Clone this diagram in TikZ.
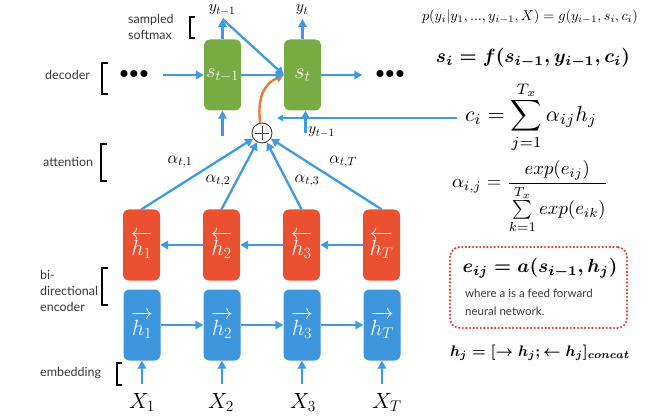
\RequirePackage{fix-cm}
\documentclass[tikz,border=0pt]{standalone}
\usepackage{amsmath}
\usepackage{fontspec}
\newfontfamily\labfont{Lato}
\usetikzlibrary{arrows.meta}
\definecolor{dgreen}{HTML}{79AB45}
\definecolor{bred}{HTML}{EA5130}
\definecolor{bblue}{HTML}{3D96DC}
\definecolor{ablue}{HTML}{3E9BE0}
\definecolor{orng}{HTML}{F0782F}
\definecolor{labgray}{HTML}{3A3A3A}
\definecolor{dotred}{HTML}{E0352B}
\begin{document}
\begin{tikzpicture}[x=1pt,y=-1pt,
  cell/.style={rounded corners=6pt, minimum width=37pt, minimum height=71pt, inner sep=0pt, text=white, font=\fontsize{22}{26}\selectfont},
  dec/.style={cell, fill=dgreen},
  bwd/.style={cell, fill=bred},
  fwd/.style={cell, fill=bblue},
  arr/.style={draw=ablue, line width=2.3pt, -{Triangle[length=8pt,width=8.5pt]}},
  orr/.style={draw=orng, line width=2.4pt, -{Triangle[length=8pt,width=8.5pt]}},
  lab/.style={font=\labfont\fontsize{12.5}{16}\selectfont, text=labgray, align=left, inner sep=0pt},
  note/.style={font=\labfont\fontsize{11.5}{18}\selectfont, text=labgray, align=left, inner sep=0pt},
  ml/.style={font=\fontsize{16}{19}\selectfont, inner sep=0pt},
  al/.style={font=\fontsize{17}{20}\selectfont, inner sep=0pt},
  xl/.style={font=\fontsize{22}{26}\selectfont, inner sep=0pt},
  dots/.style={font=\fontsize{18}{20}\selectfont, inner sep=0pt},
  eq/.style={inner sep=0pt},
  brk/.style={draw=black, line width=2.4pt},
  sbrk/.style={draw=black, line width=1.7pt},
]
\useasboundingbox (0,0) rectangle (660,419);
\fill[white] (0,0) rectangle (660,419);

% decoder cells
\node[dec, font=\fontsize{20}{24}\selectfont] (st1) at (222.5,75) {$s_{t-1}$};
\node[dec] (st) at (302.5,75) {$s_t$};
% backward encoder
\node[bwd] (b1) at (141.5,245) {$\overleftarrow{h_1}$};
\node[bwd] (b2) at (221.5,245) {$\overleftarrow{h_2}$};
\node[bwd] (b3) at (301.5,245) {$\overleftarrow{h_3}$};
\node[bwd] (bT) at (381.5,245) {$\overleftarrow{h_T}$};
% forward encoder
\node[fwd] (f1) at (142,325) {$\overrightarrow{h_1}$};
\node[fwd] (f2) at (222,325) {$\overrightarrow{h_2}$};
\node[fwd] (f3) at (302,325) {$\overrightarrow{h_3}$};
\node[fwd] (fT) at (382,325) {$\overrightarrow{h_T}$};
% inputs
\node[xl, anchor=base] (x1) at (142,408) {$X_1$};
\node[xl, anchor=base] (x2) at (221,408) {$X_2$};
\node[xl, anchor=base] (x3) at (303,408) {$X_3$};
\node[xl, anchor=base] (xT) at (387,408) {$X_T$};
\foreach \a/\b in {x1/f1,x2/f2,x3/f3,xT/fT}
  \draw[arr, shorten <=9pt] (\a.north -| \b.south) -- (\b.south);
\draw[arr] (f1) -- (f2);
\draw[arr] (f2) -- (f3);
\draw[arr] (f3) -- (fT);
\draw[arr] (bT) -- (b3);
\draw[arr] (b3) -- (b2);
\draw[arr] (b2) -- (b1);

% attention
\node[circle, draw=black!75, line width=0.9pt, minimum size=20pt, inner sep=0pt, fill=white,
  path picture={\draw[black!75, line width=0.9pt] ([yshift=7pt]path picture bounding box.center) -- ([yshift=-7pt]path picture bounding box.center)
   ([xshift=-7pt]path picture bounding box.center) -- ([xshift=7pt]path picture bounding box.center);}] (plus) at (262,133) {};
\draw[arr] (b1.north) -- (plus);
\draw[arr] (b2.north) -- (plus);
\draw[arr] (b3.north) -- (plus);
\draw[arr] (bT.north) -- (plus);
\node[al] (a1) at (180,162) {$\alpha_{t,1}$};
\node[al] (a2) at (218,181) {$\alpha_{t,2}$};
\node[al] (a3) at (307,181) {$\alpha_{t,3}$};
\node[al] (aT) at (343,162) {$\alpha_{t,T}$};
\draw[orr] (plus.100) .. controls (257,98) and (264,84) .. (st.west);

% decoder row
\node[dots] (dl) at (134,75) {$\bullet\!\bullet\!\bullet$};
\node[dots] (dr) at (390,75) {$\bullet\!\bullet\!\bullet$};
\draw[arr, shorten <=14pt] (dl) -- (st1);
\draw[arr] (st1) -- (st);
\draw[arr, shorten >=13pt] (st) -- (dr);
\node[ml, anchor=base] (yo1) at (222,12) {$y_{t-1}$};
\node[ml, anchor=base] (yo2) at (302,12) {$y_t$};
\coordinate (tp1) at (222.5,19);
\coordinate (tp2) at (302.5,19);
\draw[arr] (st1.north) -- (tp1);
\draw[arr] (st.north) -- (tp2);
\draw[arr] (tp1) -- (st.west);
\coordinate (bt1) at (222.5,136);
\draw[arr] (bt1) -- (st1.south);
\node[ml, anchor=west] (yin) at (308,132) {$y_{t-1}$};
\coordinate (bt2) at (305.5,133);
\draw[arr] (bt2) -- (bt2 |- st.south);

% right equations
\node[eq] (peq) at (530,17) {\resizebox{216pt}{!}{$p(y_i|y_1,...,y_{i-1},X)=g(y_{i-1},s_i,c_i)$}};
\node[eq] (seq) at (533,58) {\resizebox{194pt}{!}{\boldmath$s_i=f(s_{i-1},y_{i-1},c_i)$}};
\node[eq] (ceq) at (531,117) {\resizebox{132pt}{!}{$\displaystyle c_i=\sum_{j=1}^{T_x}\alpha_{ij}h_j$}};
\node[eq] (aeq) at (530,197) {\resizebox{156pt}{!}{$\displaystyle \alpha_{i,j}=\frac{exp(e_{ij})}{\sum\limits_{k=1}^{T_x}exp(e_{ik})}$}};
\coordinate (cin) at (277,118);
\draw[draw=ablue, line width=1.6pt, -{Triangle[length=6pt,width=6pt]}, shorten <=8pt] (ceq.west |- cin) -- (cin);
\node[draw=dotred, line width=2.4pt, dash pattern=on 0pt off 3.6pt, line cap=round, rounded corners=10pt,
  minimum width=177pt, minimum height=81pt] (ebox) at (538.5,287.5) {};
\node[eq] (eeq) at (540,268) {\resizebox{155pt}{!}{\boldmath$e_{ij}=a(s_{i-1},h_j)$}};
\node[note, anchor=west] (wa) at (465,302) {where a is a feed forward\\neural network.};
\node[eq] (heq) at (540,353) {\resizebox{180pt}{!}{\boldmath$h_j=[\rightarrow h_j;\leftarrow h_j]_{concat}$}};

% left labels and brackets
\node[lab, anchor=west] (lss) at (128,27) {sampled\\softmax};
\draw[sbrk] (195,17) -- (190,17) -- (190,38) -- (195,38);
\node[lab, anchor=west] (ldec) at (45,75) {decoder};
\draw[brk] (108,63) -- (102,63) -- (102,94) -- (108,94);
\node[lab, anchor=west] (latt) at (43,162) {attention};
\draw[brk] (107,144) -- (101,144) -- (101,181) -- (107,181);
\node[lab, anchor=west] (lbi) at (40,291) {bi-\\directional\\encoder};
\draw[brk] (108,268) -- (102,268) -- (102,305) -- (108,305);
\node[lab, anchor=west] (lemb) at (40,373) {embedding};
\draw[sbrk] (122,363) -- (117,363) -- (117,385) -- (122,385);
\end{tikzpicture}
\end{document}
